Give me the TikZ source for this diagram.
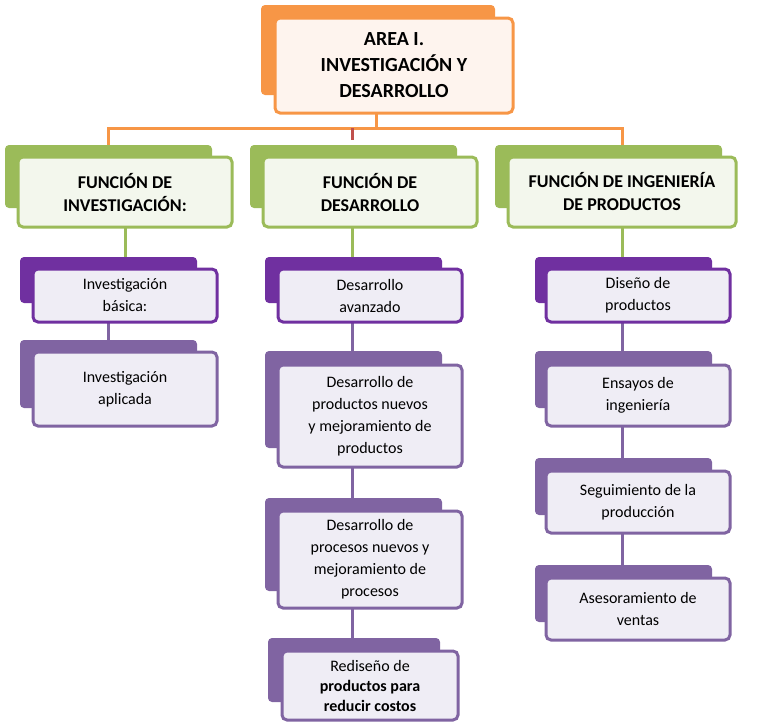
\documentclass[tikz,border=0pt]{standalone}
\usepackage{fontspec}
\setmainfont{Carlito}
\definecolor{org}{HTML}{F79646}
\definecolor{orgl}{HTML}{FEF4EE}
\definecolor{grn}{HTML}{9BBB59}
\definecolor{grnl}{HTML}{F3F7ED}
\definecolor{pdk}{HTML}{7030A0}
\definecolor{pmd}{HTML}{8064A2}
\definecolor{pl}{HTML}{EFEDF5}
\definecolor{rd}{HTML}{C0504D}
\tikzset{
 back/.style={fill=#1,draw=none,rounded corners=4pt},
 front/.style={draw=#1,line width=3pt,rounded corners=5pt,align=center,inner sep=0pt},
 con/.style={line width=3pt,draw=#1},
}
% \bx{name}{x1}{y1}{x2}{y2}{fx1}{fy1}{fx2}{fy2}{col}{fill}{text}
\newcommand{\bx}[9]{%
 \path[back=#1] (#2,#3) rectangle (#4,#5);
 \node[front=#1,fill=#6,minimum width={#8-#7},minimum height={#9},anchor=center] }
\begin{document}
\begin{tikzpicture}[x=1pt,y=-1pt]
\useasboundingbox (0,0) rectangle (771,723);
% connectors
\draw[con=org] (376,113) -- (376,128);
\draw[con=org] (108,145) -- (108,128) -- (622,128) -- (622,145);
\draw[con=rd] (352,128) -- (352,140);
\draw[con=grn] (125,227) -- (125,257);
\draw[con=grn] (352,227) -- (352,257);
\draw[con=grn] (622,227) -- (622,257);
\draw[con=pmd] (108,322) -- (108,340);
\draw[con=pmd] (352,322) -- (352,351);
\draw[con=pmd] (352,467) -- (352,498);
\draw[con=pmd] (352,608) -- (352,638);
\draw[con=pmd] (622,322) -- (622,351);
\draw[con=pmd] (622,426) -- (622,458);
\draw[con=pmd] (622,533) -- (622,565);
% top
\path[back=org] (261,5) rectangle (495,95);
\node[front=org,fill=orgl,minimum width=238,minimum height=95,font=\fontsize{20}{26}\selectfont\bfseries] (top) at (394,65.5) {AREA I.\\INVESTIGACIÓN Y\\DESARROLLO};
% level 2
\path[back=grn] (5,145) rectangle (212,208);
\node[front=grn,fill=grnl,minimum width=214,minimum height=70,font=\fontsize{18}{23}\selectfont\bfseries] (f1) at (125,192) {FUNCIÓN DE\\INVESTIGACIÓN:};
\path[back=grn] (250,145) rectangle (457,208);
\node[front=grn,fill=grnl,minimum width=214,minimum height=70,font=\fontsize{18}{23}\selectfont\bfseries] (f2) at (370,192) {FUNCIÓN DE\\DESARROLLO};
\path[back=grn] (495,145) rectangle (722,208);
\node[front=grn,fill=grnl,minimum width=228,minimum height=70,font=\fontsize{18}{23}\selectfont\bfseries] (f3) at (622,192) {FUNCIÓN DE INGENIERÍA\\DE PRODUCTOS};
% level 3 left
\tikzset{lv/.style={front=#1,fill=pl,minimum width=184,font=\fontsize{16}{22}\selectfont}}
\path[back=pdk] (20,257) rectangle (197,303);
\node[lv=pdk,minimum height=53] (a1) at (125,295.5) {Investigación\\básica:};
\path[back=pmd] (20,340) rectangle (197,408);
\node[lv=pmd,minimum height=74] (a2) at (125,389) {Investigación\\aplicada};
% middle
\path[back=pdk] (265,257) rectangle (442,303);
\node[lv=pdk,minimum height=53] (b1) at (370,295.5) {Desarrollo\\avanzado};
\path[back=pmd] (265,351) rectangle (442,448);
\node[lv=pmd,minimum height=102] (b2) at (370,416) {Desarrollo de\\productos nuevos\\y mejoramiento de\\productos};
\path[back=pmd] (265,498) rectangle (442,591);
\node[lv=pmd,minimum height=97] (b3) at (370,559.5) {Desarrollo de\\procesos nuevos y\\mejoramiento de\\procesos};
\path[back=pmd] (268,638) rectangle (440,702);
\node[lv=pmd,minimum width=176,minimum height=69,font=\fontsize{16}{20}\selectfont] (b4) at (370,685.5) {Rediseño de\\\textbf{productos para}\\\textbf{reducir costos}};
% right
\path[back=pdk] (535,257) rectangle (712,303);
\node[lv=pdk,minimum height=53] (c1) at (638,295.5) {Diseño de\\productos};
\path[back=pmd] (535,351) rectangle (712,408);
\node[lv=pmd,minimum height=61] (c2) at (638,395.5) {Ensayos de\\ingeniería};
\path[back=pmd] (535,458) rectangle (712,515);
\node[lv=pmd,minimum height=62] (c3) at (638,502) {Seguimiento de la\\producción};
\path[back=pmd] (535,565) rectangle (712,622);
\node[lv=pmd,minimum height=62] (c4) at (638,609) {Asesoramiento de\\ventas};
\end{tikzpicture}
\end{document}
